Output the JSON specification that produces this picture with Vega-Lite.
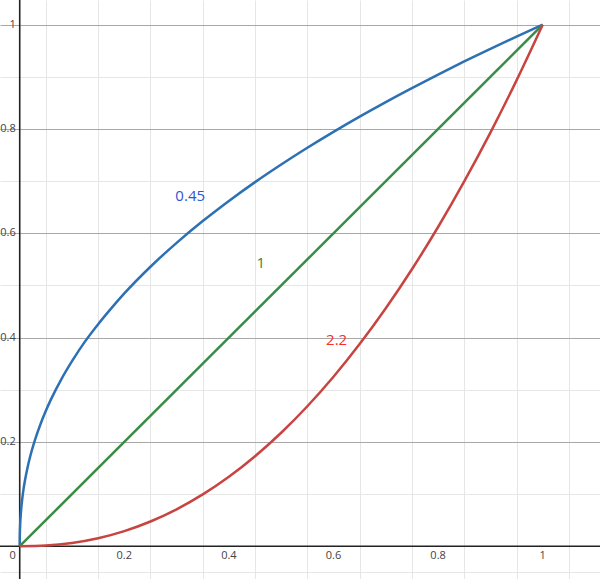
{
  "$schema": "https://vega.github.io/schema/vega-lite/v6.json",
  "width": 600,
  "height": 579,
  "padding": 0,
  "autosize": {"type": "none"},
  "background": "white",
  "config": {"view": {"stroke": null}},
  "datasets": {
    "curves": [
      {"x": 0, "y": 0, "gamma": "0.45"},
      {"x": 0.0001, "y": 0.0158, "gamma": "0.45"},
      {"x": 0.0002, "y": 0.0217, "gamma": "0.45"},
      {"x": 0.0005, "y": 0.0327, "gamma": "0.45"},
      {"x": 0.001, "y": 0.0447, "gamma": "0.45"},
      {"x": 0.002, "y": 0.0609, "gamma": "0.45"},
      {"x": 0.003, "y": 0.0732, "gamma": "0.45"},
      {"x": 0.005, "y": 0.0922, "gamma": "0.45"},
      {"x": 0.0075, "y": 0.1108, "gamma": "0.45"},
      {"x": 0.01, "y": 0.1259, "gamma": "0.45"},
      {"x": 0.015, "y": 0.1511, "gamma": "0.45"},
      {"x": 0.02, "y": 0.172, "gamma": "0.45"},
      {"x": 0.03, "y": 0.2063, "gamma": "0.45"},
      {"x": 0.04, "y": 0.2349, "gamma": "0.45"},
      {"x": 0.05, "y": 0.2597, "gamma": "0.45"},
      {"x": 0.06, "y": 0.282, "gamma": "0.45"},
      {"x": 0.08, "y": 0.3209, "gamma": "0.45"},
      {"x": 0.1, "y": 0.3548, "gamma": "0.45"},
      {"x": 0.125, "y": 0.3928, "gamma": "0.45"},
      {"x": 0.15, "y": 0.4258, "gamma": "0.45"},
      {"x": 0.175, "y": 0.4561, "gamma": "0.45"},
      {"x": 0.2, "y": 0.4847, "gamma": "0.45"},
      {"x": 0.25, "y": 0.5359, "gamma": "0.45"},
      {"x": 0.3, "y": 0.5817, "gamma": "0.45"},
      {"x": 0.35, "y": 0.6235, "gamma": "0.45"},
      {"x": 0.4, "y": 0.6621, "gamma": "0.45"},
      {"x": 0.45, "y": 0.6982, "gamma": "0.45"},
      {"x": 0.5, "y": 0.732, "gamma": "0.45"},
      {"x": 0.55, "y": 0.7641, "gamma": "0.45"},
      {"x": 0.6, "y": 0.7946, "gamma": "0.45"},
      {"x": 0.65, "y": 0.8238, "gamma": "0.45"},
      {"x": 0.7, "y": 0.8517, "gamma": "0.45"},
      {"x": 0.75, "y": 0.8785, "gamma": "0.45"},
      {"x": 0.8, "y": 0.9045, "gamma": "0.45"},
      {"x": 0.85, "y": 0.9295, "gamma": "0.45"},
      {"x": 0.9, "y": 0.9537, "gamma": "0.45"},
      {"x": 0.95, "y": 0.9772, "gamma": "0.45"},
      {"x": 1, "y": 1, "gamma": "0.45"},
      {"x": 0, "y": 0, "gamma": "1"},
      {"x": 1, "y": 1, "gamma": "1"},
      {"x": 0, "y": 0, "gamma": "2.2"},
      {"x": 0.05, "y": 0.0014, "gamma": "2.2"},
      {"x": 0.1, "y": 0.0063, "gamma": "2.2"},
      {"x": 0.15, "y": 0.0154, "gamma": "2.2"},
      {"x": 0.2, "y": 0.029, "gamma": "2.2"},
      {"x": 0.25, "y": 0.0474, "gamma": "2.2"},
      {"x": 0.3, "y": 0.0707, "gamma": "2.2"},
      {"x": 0.35, "y": 0.0993, "gamma": "2.2"},
      {"x": 0.4, "y": 0.1332, "gamma": "2.2"},
      {"x": 0.45, "y": 0.1726, "gamma": "2.2"},
      {"x": 0.5, "y": 0.2176, "gamma": "2.2"},
      {"x": 0.55, "y": 0.2684, "gamma": "2.2"},
      {"x": 0.6, "y": 0.325, "gamma": "2.2"},
      {"x": 0.65, "y": 0.3876, "gamma": "2.2"},
      {"x": 0.7, "y": 0.4563, "gamma": "2.2"},
      {"x": 0.75, "y": 0.5311, "gamma": "2.2"},
      {"x": 0.8, "y": 0.6121, "gamma": "2.2"},
      {"x": 0.85, "y": 0.6994, "gamma": "2.2"},
      {"x": 0.9, "y": 0.7931, "gamma": "2.2"},
      {"x": 0.95, "y": 0.8933, "gamma": "2.2"},
      {"x": 1, "y": 1, "gamma": "2.2"}
    ],
    "curveLabels": [
      {"x": 0.326, "y": 0.672, "gamma": "0.45"},
      {"x": 0.461, "y": 0.543, "gamma": "1"},
      {"x": 0.606, "y": 0.395, "gamma": "2.2"}
    ],
    "xTicks": [
      {"v": 0.2, "label": "0.2"},
      {"v": 0.4, "label": "0.4"},
      {"v": 0.6, "label": "0.6"},
      {"v": 0.8, "label": "0.8"},
      {"v": 1, "label": "1"}
    ],
    "yTicks": [
      {"v": 0.2, "label": "0.2"},
      {"v": 0.4, "label": "0.4"},
      {"v": 0.6, "label": "0.6"},
      {"v": 0.8, "label": "0.8"},
      {"v": 1, "label": "1"}
    ],
    "origin": [{"v": 0, "label": "0"}]
  },
  "layer": [
    {
      "data": {"name": "origin"},
      "mark": {"type": "rule", "color": "#222222", "strokeWidth": 1.6},
      "encoding": {
        "x": {
          "field": "v",
          "type": "quantitative",
          "scale": {"domain": [-0.0377, 1.1096], "nice": false, "zero": false},
          "axis": {
            "values": [0.05, 0.1, 0.15, 0.2, 0.25, 0.3, 0.35, 0.4, 0.45, 0.5, 0.55, 0.6, 0.65, 0.7, 0.75, 0.8, 0.85, 0.9, 0.95, 1, 1.05, 1.1],
            "title": null,
            "labels": false,
            "ticks": false,
            "domain": false,
            "grid": true,
            "gridOpacity": 1,
            "gridColor": {
              "condition": {"test": "abs(datum.value*5 - round(datum.value*5)) < 0.001", "value": "#a8a8a8"},
              "value": "#e6e6e6"
            }
          }
        }
      }
    },
    {
      "data": {"name": "origin"},
      "mark": {"type": "rule", "color": "#222222", "strokeWidth": 1.6},
      "encoding": {
        "y": {
          "field": "v",
          "type": "quantitative",
          "scale": {"domain": [-0.0629, 1.0474], "nice": false, "zero": false},
          "axis": {
            "values": [-0.05, 0.05, 0.1, 0.15, 0.2, 0.25, 0.3, 0.35, 0.4, 0.45, 0.5, 0.55, 0.6, 0.65, 0.7, 0.75, 0.8, 0.85, 0.9, 0.95, 1],
            "title": null,
            "labels": false,
            "ticks": false,
            "domain": false,
            "grid": true,
            "gridOpacity": 1,
            "gridColor": {
              "condition": {"test": "abs(datum.value*5 - round(datum.value*5)) < 0.001", "value": "#a8a8a8"},
              "value": "#e6e6e6"
            }
          }
        }
      }
    },
    {
      "data": {"name": "curves"},
      "mark": {"type": "line", "strokeWidth": 2.5, "clip": true, "interpolate": "monotone"},
      "encoding": {
        "x": {"field": "x", "type": "quantitative"},
        "y": {"field": "y", "type": "quantitative"},
        "color": {
          "field": "gamma",
          "type": "nominal",
          "scale": {"domain": ["0.45", "1", "2.2"], "range": ["#2d70b3", "#388c46", "#c74440"]},
          "legend": null
        }
      }
    },
    {
      "data": {"name": "curveLabels"},
      "mark": {"type": "text", "fontSize": 15, "font": "Open Sans", "align": "center", "baseline": "middle"},
      "encoding": {
        "x": {"field": "x", "type": "quantitative"},
        "y": {"field": "y", "type": "quantitative"},
        "text": {"field": "gamma"},
        "color": {
          "condition": [
            {"test": "datum.gamma === '0.45'", "value": "#2f55d4"},
            {"test": "datum.gamma === '1'", "value": "#2a8a36"}
          ],
          "value": "#ff2a2a"
        }
      }
    },
    {
      "data": {"name": "xTicks"},
      "mark": {"type": "text", "fontSize": 11, "font": "Open Sans", "color": "#444444", "align": "center", "baseline": "middle", "dy": 10},
      "encoding": {
        "x": {"field": "v", "type": "quantitative"},
        "y": {"datum": 0, "type": "quantitative"},
        "text": {"field": "label"}
      }
    },
    {
      "data": {"name": "yTicks"},
      "mark": {"type": "text", "fontSize": 11, "font": "Open Sans", "color": "#444444", "align": "right", "baseline": "middle", "dx": -4},
      "encoding": {
        "x": {"datum": 0, "type": "quantitative"},
        "y": {"field": "v", "type": "quantitative"},
        "text": {"field": "label"}
      }
    },
    {
      "data": {"name": "origin"},
      "mark": {"type": "text", "fontSize": 11, "font": "Open Sans", "color": "#444444", "align": "right", "baseline": "middle", "dx": -4, "dy": 10},
      "encoding": {
        "x": {"field": "v", "type": "quantitative"},
        "y": {"field": "v", "type": "quantitative"},
        "text": {"field": "label"}
      }
    }
  ]
}
